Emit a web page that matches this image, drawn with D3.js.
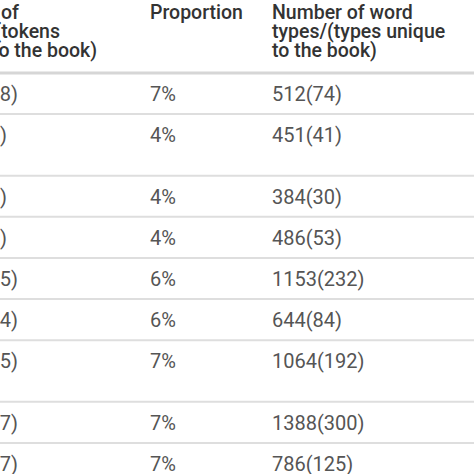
<!DOCTYPE html>
<html>
<head>
<meta charset="utf-8">
<script src="https://cdn.jsdelivr.net/npm/d3@7"></script>
<style>
  body { margin: 0; background: #fff; }
  text { font-family: Roboto, "Noto Sans", sans-serif; }
  .head { font-size: 19.5px; font-weight: 500; fill: #333; }
  .cell { font-size: 20px; fill: #555; }
</style>
</head>
<body>
<div id="chart"></div>
<script>
// visible table content (first column is cut off by the crop)
const headerTokens = ["Number of", "word tokens/(tokens", "unique to the book)"];
const headerProportion = ["Proportion"];
const headerTypes = ["Number of word", "types/(types unique", "to the book)"];
const tokenTails = ["8)", ")", ")", ")", "5)", "4)", "5)", "7)", "7)"];
const proportions = ["7%", "4%", "4%", "4%", "6%", "6%", "7%", "7%", "7%"];
const types = ["512(74)", "451(41)", "384(30)", "486(53)", "1153(232)", "644(84)", "1064(192)", "1388(300)", "786(125)"];
const rowSpans = [1, 1.5, 1, 1, 1, 1, 1.5, 1, 1];

const width = 474, height = 474;
const headerBottom = 73;
const svg = d3.select("#chart").append("svg")
    .attr("width", width)
    .attr("height", height);

// cumulative row units -> pixels
const cum = [0];
rowSpans.forEach(s => cum.push(cum[cum.length - 1] + s));
const y = d3.scaleLinear()
    .domain([0, cum[cum.length - 1]])
    .range([headerBottom, headerBottom + 41.1 * cum[cum.length - 1]]);

// column x positions
const col = { tokensEnd: 18, prop: 150, types: 272 };

// header
const headLines = (arr, x, anchor) => svg.selectAll(null)
    .data(arr).enter().append("text")
    .attr("class", "head")
    .attr("x", x)
    .attr("y", (d, i) => 19 + i * 19)
    .style("text-anchor", anchor)
    .text(d => d);

headLines(headerTokens, 0, "end")
    .attr("x", (d, i) => [19, 60, 97][i]);
headLines(headerProportion, col.prop, "start");
headLines(headerTypes, col.types, "start");

svg.append("line")
    .attr("x1", 0).attr("x2", width)
    .attr("y1", headerBottom).attr("y2", headerBottom)
    .style("stroke", "#d6d6d6").style("stroke-width", 3);

// row separators
svg.selectAll("line.sep")
    .data(cum.slice(1))
    .enter().append("line")
    .attr("class", "sep")
    .attr("x1", 0).attr("x2", width)
    .attr("y1", d => y(d)).attr("y2", d => y(d))
    .style("stroke", "#dedede").style("stroke-width", 2);

// cells
const rowY = i => y(cum[i]) + 28;

svg.selectAll("text.tail")
    .data(tokenTails).enter().append("text")
    .attr("class", "cell tail")
    .attr("x", d => d.length > 1 ? col.tokensEnd : 7)
    .attr("y", (d, i) => rowY(i))
    .style("text-anchor", "end")
    .text(d => d);

svg.selectAll("text.prop")
    .data(proportions).enter().append("text")
    .attr("class", "cell prop")
    .attr("x", col.prop)
    .attr("y", (d, i) => rowY(i))
    .text(d => d);

svg.selectAll("text.types")
    .data(types).enter().append("text")
    .attr("class", "cell types")
    .attr("x", col.types)
    .attr("y", (d, i) => rowY(i))
    .text(d => d);
</script>
</body>
</html>
